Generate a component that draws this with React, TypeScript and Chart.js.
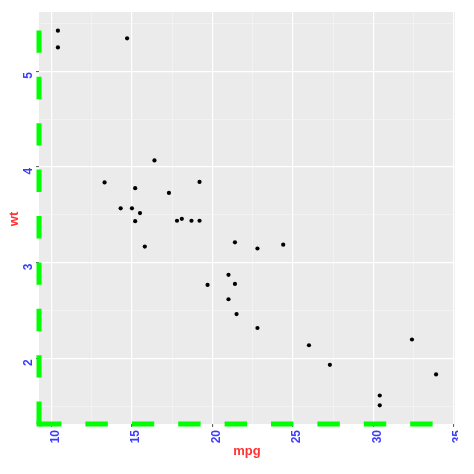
import React, { useEffect, useRef } from 'react';
import { Chart, registerables } from 'chart.js';

Chart.register(...registerables);

// mtcars: mpg vs wt
const mpg = [21.0, 21.0, 22.8, 21.4, 18.7, 18.1, 14.3, 24.4, 22.8, 19.2, 17.8, 16.4, 17.3, 15.2, 10.4, 10.4, 14.7, 32.4, 30.4, 33.9, 21.5, 15.5, 15.2, 13.3, 19.2, 27.3, 26.0, 30.4, 15.8, 19.7, 15.0, 21.4];
const wt = [2.620, 2.875, 2.320, 3.215, 3.440, 3.460, 3.570, 3.190, 3.150, 3.440, 3.440, 4.070, 3.730, 3.780, 5.250, 5.424, 5.345, 2.200, 1.615, 1.835, 2.465, 3.520, 3.435, 3.840, 3.845, 1.935, 2.140, 1.513, 3.170, 2.770, 3.570, 2.780];

const xMajorTicks = [10, 15, 20, 25, 30, 35];
const xMinorTicks = [12.5, 17.5, 22.5, 27.5, 32.5];
const yMajorTicks = [2, 3, 4, 5];
const yMinorTicks = [1.5, 2.5, 3.5, 4.5, 5.5];
const xTitle = 'mpg';
const yTitle = 'wt';

const PANEL_BG = '#EBEBEB';
const TICK_COLOR = '#3c3cff';
const TITLE_COLOR = '#ff3333';
const AXIS_GREEN = '#00ff00';
const FONT = '"Liberation Sans", Arial, sans-serif';

const isMajor = (v: number, majors: number[]) => majors.some((m) => Math.abs(m - v) < 1e-9);

const ggPlugin = {
  id: 'ggDecor',
  beforeDraw(chart: any) {
    const { ctx, chartArea } = chart;
    ctx.save();
    ctx.fillStyle = '#ffffff';
    ctx.fillRect(0, 0, chart.width, chart.height);
    ctx.fillStyle = PANEL_BG;
    ctx.fillRect(chartArea.left, chartArea.top, chartArea.right - chartArea.left, chartArea.bottom - chartArea.top);
    ctx.restore();
  },
  afterDraw(chart: any) {
    const { ctx, chartArea } = chart;
    const { left, right, top, bottom } = chartArea;
    const xs = chart.scales.x;
    const ys = chart.scales.y;

    // green dashed axis lines
    ctx.save();
    ctx.strokeStyle = AXIS_GREEN;
    ctx.lineWidth = 5;
    ctx.lineCap = 'butt';
    ctx.setLineDash([22.4, 24]);
    ctx.beginPath();
    ctx.moveTo(left, bottom);
    ctx.lineTo(right, bottom);
    ctx.stroke();
    ctx.beginPath();
    ctx.moveTo(left, bottom);
    ctx.lineTo(left, top);
    ctx.stroke();
    ctx.setLineDash([]);
    ctx.fillStyle = AXIS_GREEN;
    ctx.fillRect(left - 2.5, bottom - 2.5, 5, 5);
    ctx.restore();

    // tick labels
    ctx.save();
    ctx.beginPath();
    ctx.rect(0, 0, 458, chart.height);
    ctx.clip();
    ctx.fillStyle = TICK_COLOR;
    ctx.font = `bold 12px ${FONT}`;
    xMajorTicks.forEach((v) => {
      const px = xs.getPixelForValue(v);
      ctx.save();
      ctx.translate(px + 4, bottom + 6);
      ctx.rotate(-Math.PI / 2);
      ctx.textAlign = 'right';
      ctx.textBaseline = 'middle';
      ctx.fillText(String(v), 0, 0);
      ctx.restore();
    });
    yMajorTicks.forEach((v) => {
      const py = ys.getPixelForValue(v);
      ctx.save();
      ctx.translate(29, py + 4);
      ctx.rotate(-Math.PI / 2);
      ctx.textAlign = 'center';
      ctx.textBaseline = 'middle';
      ctx.fillText(String(v), 0, 0);
      ctx.restore();
    });
    ctx.restore();

    // axis titles
    ctx.save();
    ctx.fillStyle = TITLE_COLOR;
    ctx.font = `bold 13px ${FONT}`;
    ctx.textAlign = 'center';
    ctx.textBaseline = 'alphabetic';
    ctx.fillText(xTitle, (left + right) / 2, 455);
    ctx.translate(18, (top + bottom) / 2 + 1);
    ctx.rotate(-Math.PI / 2);
    ctx.fillText(yTitle, 0, 0);
    ctx.restore();
  },
};

export default function App() {
  const canvasRef = useRef<HTMLCanvasElement | null>(null);

  useEffect(() => {
    const canvas = canvasRef.current;
    if (!canvas) return;
    const points = mpg.map((x, i) => ({ x, y: wt[i] }));
    const xAll = [...xMajorTicks, ...xMinorTicks].sort((a, b) => a - b);
    const yAll = [...yMajorTicks, ...yMinorTicks].sort((a, b) => a - b);

    const chart = new Chart(canvas, {
      type: 'scatter',
      data: {
        datasets: [
          {
            data: points,
            pointRadius: 2.1,
            pointHoverRadius: 2.1,
            backgroundColor: '#000000',
            borderColor: '#000000',
            borderWidth: 0,
          },
        ],
      },
      options: {
        animation: false,
        responsive: false,
        events: [],
        layout: { padding: { top: 12, right: 19, left: 0, bottom: 0 } },
        plugins: {
          legend: { display: false },
          tooltip: { enabled: false },
        },
        scales: {
          x: {
            type: 'linear',
            position: 'bottom',
            min: 9.225,
            max: 35.075,
            afterBuildTicks: (s: any) => {
              s.ticks = xAll.map((v) => ({ value: v }));
            },
            afterFit: (s: any) => {
              s.height = 50;
            },
            ticks: { display: false },
            border: { display: false },
            grid: {
              drawTicks: true,
              tickLength: 3,
              color: (c: any) => (isMajor(c.tick.value, xMajorTicks) ? '#ffffff' : '#f6f6f6'),
              lineWidth: (c: any) => (isMajor(c.tick.value, xMajorTicks) ? 1.2 : 0.6),
              tickColor: (c: any) => (isMajor(c.tick.value, xMajorTicks) ? '#555555' : 'rgba(0,0,0,0)'),
              tickWidth: 1,
            },
          },
          y: {
            type: 'linear',
            position: 'left',
            min: 1.3175,
            max: 5.6195,
            afterBuildTicks: (s: any) => {
              s.ticks = yAll.map((v) => ({ value: v }));
            },
            afterFit: (s: any) => {
              s.width = 39;
            },
            ticks: { display: false },
            border: { display: false },
            grid: {
              drawTicks: true,
              tickLength: 3,
              color: (c: any) => (isMajor(c.tick.value, yMajorTicks) ? '#ffffff' : '#f6f6f6'),
              lineWidth: (c: any) => (isMajor(c.tick.value, yMajorTicks) ? 1.2 : 0.6),
              tickColor: (c: any) => (isMajor(c.tick.value, yMajorTicks) ? '#555555' : 'rgba(0,0,0,0)'),
              tickWidth: 1,
            },
          },
        },
      },
      plugins: [ggPlugin],
    } as any);

    return () => {
      chart.destroy();
    };
  }, []);

  return (
    <div style={{ position: 'absolute', left: 0, top: 0, width: 474, height: 474, background: '#ffffff' }}>
      <canvas ref={canvasRef} width={474} height={474} style={{ width: 474, height: 474, display: 'block' }} />
    </div>
  );
}
